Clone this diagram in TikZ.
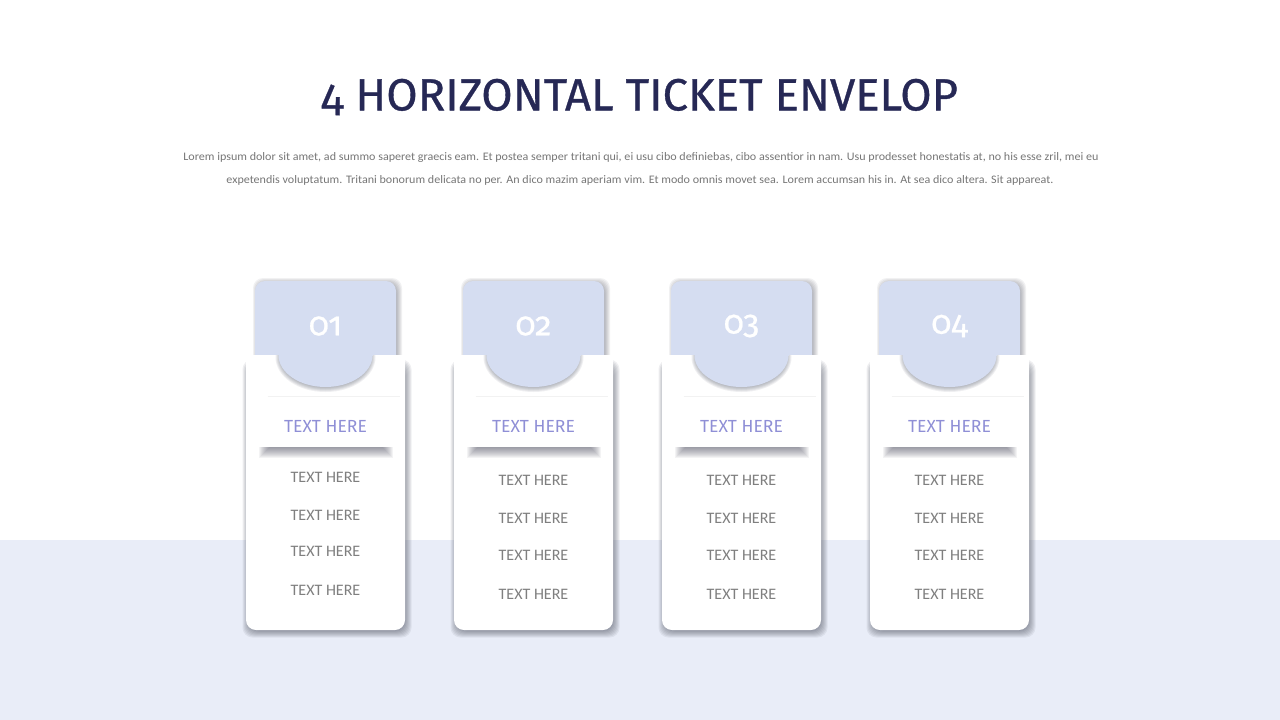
\documentclass[tikz,border=0pt]{standalone}
\usepackage{fontspec}
\setmainfont{Carlito}
\newfontfamily\titlefont[Numbers=OldStyle]{Fira Sans}
\newfontfamily\titlefontb[Numbers=OldStyle, FakeBold=0.7]{Fira Sans}
\definecolor{navy}{HTML}{262855}
\definecolor{ticketc}{HTML}{D5DDF1}
\definecolor{bandbg}{HTML}{E9EDF8}
\definecolor{lav}{HTML}{8F8FD6}
\definecolor{graytxt}{HTML}{7F7F7F}
\definecolor{paratxt}{HTML}{767676}
\definecolor{shadowc}{HTML}{3A3D50}
\tikzset{
  titletxt/.style={text=navy, font=\titlefontb\fontsize{45}{48}\selectfont},
  paratxt/.style={text=paratxt, font=\fontsize{11.5}{13}\selectfont},
  numtxt/.style={text=white, font=\titlefontb\fontsize{33}{36}\selectfont},
  headtxt/.style={text=lav, font=\titlefont\fontsize{17.5}{20}\selectfont},
  itemtxt/.style={text=graytxt, font=\fontsize{16}{18}\selectfont},
  shadowlayer/.style={fill=shadowc, fill opacity=#1},
  ticketshape/.style={fill=ticketc},
  envshape/.style={fill=white},
  tabshape/.style={fill=ticketc},
  bandshape/.style={fill=white},
}
\begin{document}
\begin{tikzpicture}[x=1pt,y=-1pt]
\useasboundingbox (0,0) rectangle (1280,720);
\fill[white] (0,0) rectangle (1280,720);
\fill[bandbg] (0,540) rectangle (1280,720);
\node[titletxt] (title) at (639.5,97) {\scalebox{1.01}[1]{4 HORIZONTAL TICKET ENVELOP}};
\node[paratxt] (p1) at (641,157) {\scalebox{1.05}[1]{Lorem ipsum dolor sit amet, ad summo saperet graecis eam. Et postea semper tritani qui, ei usu cibo definiebas, cibo assentior in nam. Usu prodesset honestatis at, no his esse zril, mei eu}};
\node[paratxt] (p2) at (640,180) {\scalebox{1.05}[1]{expetendis voluptatum. Tritani bonorum delicata no per. An dico mazim aperiam vim. Et modo omnis movet sea. Lorem accumsan his in. At sea dico altera. Sit appareat.}};
\foreach \i/\cx/\ya/\yb/\yc/\yd in {1/325.5/477/515/551/590, 2/533.5/480/518/555/594, 3/741.5/480/518/555/594, 4/949.5/480/518/555/594}{
  % ticket shadow + ticket
  \foreach \e in {4,3,...,-4}
    \fill[shadowlayer=0.07, rounded corners=10pt] (\cx-70.5-\e+2,281-\e+1) rectangle (\cx+70.5+\e+2,365+\e+1);
  \fill[ticketshape, rounded corners=10pt] (\cx-70.5,281) rectangle (\cx+70.5,365);
  % envelope shadow + envelope
  \foreach \e in {5,4,...,-5}
    \fill[shadowlayer=0.08, rounded corners=10pt] (\cx-79.5-\e+1.5,362-\e+2.5) rectangle (\cx+79.5+\e+1.5,630+\e+2.5);
  \fill[envshape] (\cx-79.5,355) -- (\cx-79.5,620) arc[start angle=180,end angle=90,radius=10] -- (\cx+69.5,630) arc[start angle=90,end angle=0,radius=10] -- (\cx+79.5,355) -- cycle;
  % tab shadow + tab
  \begin{scope}
    \clip (\cx-70,355) rectangle (\cx+70,400);
    \foreach \e in {3,2,...,-3}
      \fill[shadowlayer=0.08] (\cx,357) ellipse[x radius=47+\e, y radius=32+\e];
  \end{scope}
  \fill[tabshape] (\cx-47,355) arc[start angle=180,end angle=0,x radius=47,y radius=32] -- cycle;
  \fill[ticketc] (\cx-47,353) rectangle (\cx+47,356);
  % band shadow + band
  \foreach \e in {7,6,...,-7}
    \fill[shadowlayer=0.06] (\cx-60-\e,428-\e+5) rectangle (\cx+60+\e,446+\e+5);
  \fill[bandshape] (\cx-76,396) rectangle (\cx+76,447);
  \draw[black!5, line width=0.8pt] (\cx-58,396) -- (\cx+74,396);
  \node[numtxt] (n\i) at (\cx,326) {0\i};
  \node[headtxt] (h\i) at (\cx,426) {TEXT HERE};
  \node[itemtxt] (a\i) at (\cx,\ya) {TEXT HERE};
  \node[itemtxt] (b\i) at (\cx,\yb) {TEXT HERE};
  \node[itemtxt] (c\i) at (\cx,\yc) {TEXT HERE};
  \node[itemtxt] (d\i) at (\cx,\yd) {TEXT HERE};
}
\end{tikzpicture}
\end{document}
